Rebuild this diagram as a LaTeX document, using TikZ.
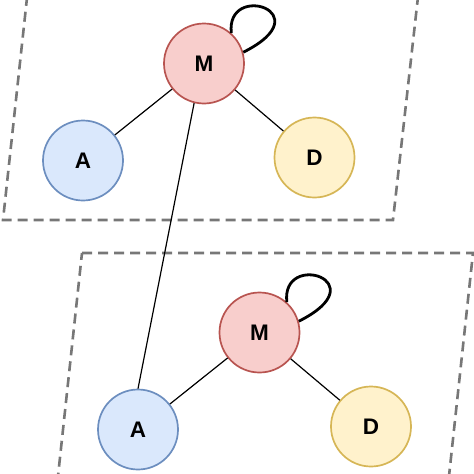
\documentclass[tikz,border=0pt]{standalone}
\usepackage{fontspec}
\setsansfont{Liberation Sans}
\usetikzlibrary{calc}
\definecolor{MgrFill}{HTML}{F8CECC}
\definecolor{MgrLine}{HTML}{B85450}
\definecolor{AppFill}{HTML}{DAE8FC}
\definecolor{AppLine}{HTML}{6C8EBF}
\definecolor{DbFill}{HTML}{FFF2CC}
\definecolor{DbLine}{HTML}{D6B656}
\definecolor{FrameGray}{HTML}{777777}

\begin{document}
\begin{tikzpicture}[x=1pt,y=-1pt,
      agent/.style={circle,minimum size=80pt,line width=1.7pt,
      font=\sffamily\bfseries\fontsize{22.5}{26}\selectfont},
      mgr/.style={agent,fill=MgrFill,draw=MgrLine},
      app/.style={agent,fill=AppFill,draw=AppLine},
      db/.style={agent,fill=DbFill,draw=DbLine},
      frame/.style={FrameGray,line width=2.6pt,dash pattern=on 10pt off 6pt},
      link/.style={black,line width=1.2pt},
      selfloop/.style={black,line width=2.8pt}]
      \clip (0,0) rectangle (474,474);
      % upper group
      \draw[frame] (30,-30) -- (421,-30) -- (393,220) -- (3,220) -- cycle;
      \node[mgr] (m1) at (204,63.5) {M};
      \node[app] (a1) at (83,160.5) {A};
      \node[db] (d1) at (314.5,157.5) {D};
      % lower group
      \draw[frame] (82,253) -- (473,253) -- (446,504) -- (55,504) -- cycle;
      \node[mgr] (m2) at (259.5,332.5) {M};
      \node[app] (a2) at (138,429.5) {A};
      \node[db] (d2) at (371,426.5) {D};
      % links
      \draw[link] (m1)--(a1);
      \draw[link] (m1)--(d1);
      \draw[link] (m2)--(a2);
      \draw[link] (m2)--(d2);
      \draw[link] (m1.256)--(a2.north);
      \draw[selfloop] (m1.48) .. controls +(-6,-52) and +(80,-40) .. (m1.16);
      \draw[selfloop] (m2.48) .. controls +(-6,-52) and +(80,-40) .. (m2.16);
    \end{tikzpicture}
\end{document}
